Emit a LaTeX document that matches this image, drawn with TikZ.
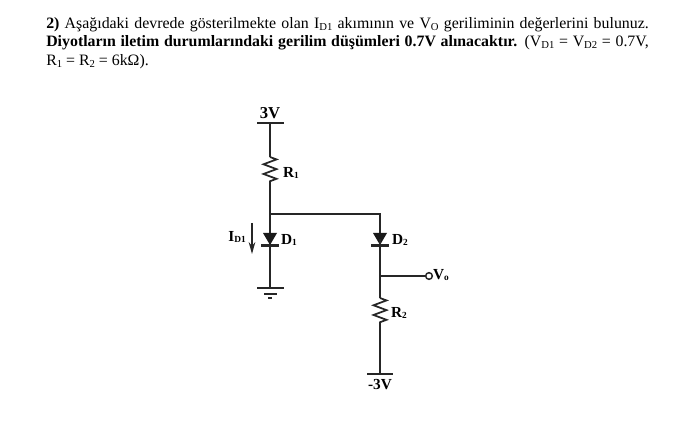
\documentclass[tikz,border=0pt]{standalone}
\usepackage{fontspec}
\setmainfont{Liberation Serif}
\usetikzlibrary{decorations.pathmorphing,arrows.meta}

\newcommand{\subtxt}[1]{\raisebox{-0.25ex}{\footnotesize #1}}
\tikzset{
	wire/.style={line width=1.3pt,draw=black!85},
	coil/.style={wire,decorate,decoration={zigzag,segment length=9.7*0.75pt,amplitude=6.5*0.75pt}},
	lbl/.style={font=\bfseries\fontsize{11.5}{13}\selectfont,inner sep=0pt},
	txtline/.style={anchor=base west,inner sep=0pt,font=\fontsize{11.9}{14}\selectfont},
	diode/.pic={
		\fill[black!90] (-7,6) -- (7,6) -- (0,-6) -- cycle;
		\draw[wire,line width=1.6pt] (-9,-6.5) -- (9,-6.5);
	}
}

\begin{document}
\begin{tikzpicture}[x=0.75pt,y=0.75pt,yscale=-1,xscale=1]
	\useasboundingbox (0,0) rectangle (700,441);

	% Question text
	\node[txtline] (lineone) at (46,29) {\hbox to 451.9pt{\textbf{2)} Aşağıdaki devrede gösterilmekte olan I\subtxt{D1} akımının ve V\subtxt{O} geriliminin değerlerini bulunuz.}};
	\node[txtline] (linetwo) at (46,47) {\hbox to 451.9pt{\textbf{Diyotların iletim durumlarındaki gerilim düşümleri 0.7V alınacaktır.} (V\subtxt{D1} = V\subtxt{D2} = 0.7V,}};
	\node[txtline] (linethree) at (46,66) {R\subtxt{1} = R\subtxt{2} = 6kΩ).};

	% Points
	\coordinate (topbarl) at (257,123);
	\coordinate (topbarr) at (284,123);
	\coordinate (top) at (270,123);
	\coordinate (Ra) at (270,157);
	\coordinate (Rb) at (270,186);
	\coordinate (junc) at (270,214);
	\coordinate (corner) at (380,214);
	\coordinate (Da) at (270,239);
	\coordinate (Db) at (380,239);
	\coordinate (gnd) at (270,288);
	\coordinate (out) at (380,276);
	\coordinate (Rc) at (380,298);
	\coordinate (Rd) at (380,327);
	\coordinate (bot) at (380,374);
	\coordinate (botbarl) at (367,374);
	\coordinate (botbarr) at (393,374);
	\coordinate (arrowa) at (252,223);
	\coordinate (arrowb) at (252,254);

	% Left branch
	\draw[wire] (topbarl) -- (topbarr);
	\draw[wire] (top) -- (Ra);
	\draw[coil] (Ra) -- (Rb);
	\draw[wire] (Rb) -- (junc) -- (Da);
	\draw[wire] (Da) -- (gnd);
	\pic at (Da) {diode};
	\draw[wire] (257,288) -- (284,288);
	\draw[wire] (264,294) -- (277,294);
	\draw[wire] (268,298) -- (272,298);
	\draw[wire,line width=1pt,-{Stealth[length=9pt,width=5pt]}] (arrowa) -- (arrowb);

	% Right branch
	\draw[wire] (junc) -- (corner) -- (Db);
	\pic at (Db) {diode};
	\draw[wire] (Db) -- (out) -- (Rc);
	\draw[coil] (Rc) -- (Rd);
	\draw[wire] (Rd) -- (bot);
	\draw[wire] (botbarl) -- (botbarr);
	\node[circle,draw=black!85,line width=1.1pt,inner sep=0pt,minimum size=5pt] (vo) at (429,276) {};
	\draw[wire] (out) -- (vo);

	% Labels
	\node[lbl] (vtop) at (270,113) {\fontsize{12.5}{14}\selectfont 3V};
	\node[lbl] (rone) at (291,173) {R\subtxt{\scriptsize 1}};
	\node[lbl] (ione) at (237,237) {I\subtxt{\scriptsize D1}};
	\node[lbl] (done) at (289,240) {D\subtxt{\scriptsize 1}};
	\node[lbl] (dtwo) at (400,240) {D\subtxt{\scriptsize 2}};
	\node[lbl] (vout) at (441,275) {V\subtxt{\scriptsize o}};
	\node[lbl] (rtwo) at (399,313) {R\subtxt{\scriptsize 2}};
	\node[lbl] (vbot) at (380,385) {-3V};
\end{tikzpicture}
\end{document}
